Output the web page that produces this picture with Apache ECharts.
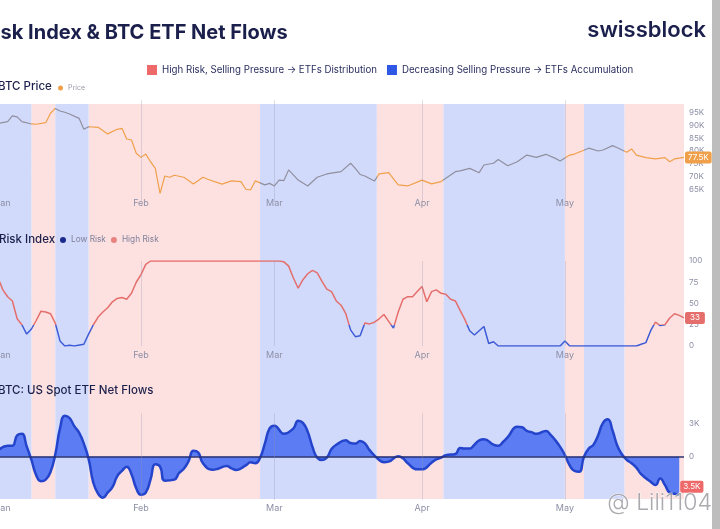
<!DOCTYPE html>
<html>
<head>
<meta charset="utf-8">
<script src="https://cdn.jsdelivr.net/npm/echarts@6/dist/echarts.min.js"></script>
<style>html,body{margin:0;padding:0;background:#fff}#c{width:720px;height:529px}</style>
</head>
<body>
<div id="c"></div>
<script>
// x values are days since 2026-01-01 (0 = Jan 1)
const monthNames = ['Jan', 'Feb', 'Mar', 'Apr', 'May'];
const monthStartDay = [0, 31, 59, 90, 120];

// regime bands
const bandStartDay = [0, 8, 13, 20, 56, 80.5, 94.5, 120, 124, 132.5];
const bandEndDay   = [8, 13, 20, 56, 80.5, 94.5, 120, 124, 132.5, 145];
const bandType     = ['low', 'high', 'low', 'high', 'low', 'high', 'low', 'high', 'low', 'high'];
const highName = 'High Risk, Selling Pressure \u2192 ETFs Distribution';
const lowName = 'Decreasing Selling Pressure \u2192 ETFs Accumulation';

// BTC price (K USD)
const priceDay = [1,3,4,5,6,8,9,11,12,13,14,15,16,18,19,20,22,24,26,27,28,29,30,31,32,33,34,35,36,37,38,40,42,44,45,48,50,52,53,54,55,57,58,59,60,61,62,64,66,68,70,73,75,76,77,78,80,81,83,85,87,90,92,94,95,97,98,100,102,103,105,106,108,110,112,114,116,118,119,121,122,125,127,128,130,131,133,134,135,137,139,141,142,143,145];
const priceK = [90.8,91.5,93.8,93.4,91.5,90.6,90.5,91.1,94.8,96.7,95.7,95.2,94.5,92.8,88.5,89.5,89.3,86.7,88.5,88.9,84.7,84.3,79.1,77.5,78.8,75.8,73.2,63.4,70.2,69.7,70.5,69.7,67.1,69.7,68.9,67.0,68.3,68.0,65.0,64.7,68.3,66.7,67.3,66.3,68.6,68.4,72.6,68.6,66.3,69.7,71.0,71.9,75.2,73.2,70.8,70.2,68.2,71.0,71.5,66.7,66.3,68.6,67.1,68.0,69.3,71.9,72.2,73.2,71.5,74.5,75.2,76.7,74.2,75.8,78.4,77.5,78.7,77.1,76.1,78.4,78.8,81.1,80.0,80.4,82.1,81.3,79.5,80.8,78.4,77.4,76.9,77.4,75.8,76.9,77.5];

// Risk index (0-100)
const riskDay = [1,2,3,4,5,6,7,8,9,10,11,12,13,14,15,16,17,19,20,21,22,23,24,25,26,27,28,29,30,31,32,33,60,61,62,63,64,65,66,67,68,69,70,71,72,73,74,75,76,77,78,79,80,81,82,83,84,85,86,87,88,89,90,91,92,93,94,95,96,97,98,99,100,101,102,103,104,105,106,119,120,121,135,136,137,138,139,140,141,142,143,144,145];
const riskValue = [80,66,58,53,32,25,14,20,30,41,40,38,27,6,0,1,0,2,14,25,34,40,45,52,56,57,55,62,75,84,96,100,100,99,94,80,68,78,85,89,86,76,67,64,53,48,38,19,11,12,27,26,28,32,37,29,21,40,55,58,58,64,70,52,64,66,62,61,55,53,42,31,18,13,18,23,3,5,0,0,6,0,0,2,4,18,28,24,25,33,38,36,33];
const riskThreshold = 25;

// US spot ETF net flows (K)
const flowDay = [1,3,4,5,6,7,8,9,10,11,12,13,14,15,16,17,18,19,20,21,22,23,24,25,26,27,28,29,30,31,32,33,34,35,36,38,39,40,41,42,43,44,46,47,49,50,51,53,54,55,56,57,58,59,61,63,64,65,66,67,68,69,70,71,72,74,75,76,77,78,79,81,82,83,85,86,87,89,90,92,93,94,95,97,98,99,100,101,102,103,105,106,107,108,110,111,112,113,114,116,117,118,119,120,121,122,123,124,125,126,127,128,129,130,131,132,133,134,135,136,138,139,140,141,142,143,144];
const flowK = [0.55,1.0,1.0,1.95,2.1,0.95,-0.3,-1.7,-2.25,-2.1,-1.4,0.2,2.6,3.76,3.55,2.8,2.2,1.2,-0.2,-2.4,-3.4,-3.76,-3.3,-2.8,-1.8,-1.3,-0.92,-1.6,-2.9,-3.5,-3.3,-2.1,-0.7,-0.9,-2.2,-2.1,-1.5,-1.1,-0.4,0.55,0.4,-0.6,-1.2,-1.13,-0.85,-1.07,-1.22,-0.8,-0.52,-0.6,-0.1,1.2,2.6,2.85,2.1,2.6,3.3,3.1,2.3,0.9,-0.1,-0.3,-0.1,0.7,1.1,1.5,1.25,1.2,1.45,1.23,0.6,-0.3,-0.5,-0.45,0.05,-0.15,-0.6,-1.16,-1.16,-0.55,-0.25,-0.09,0.14,0.25,0.8,0.75,0.75,1.1,1.5,1.6,1.1,1.0,1.35,1.8,2.75,2.7,2.36,2.25,2.1,2.36,2.0,1.5,0.9,0.16,-0.8,-1.3,-1.38,0,0.75,1.1,2.0,3.1,3.43,2.4,1.0,0.2,-0.3,-0.6,-1.0,-1.6,-2.3,-2.6,-2.0,-2.6,-3.3,-3.4,-3.5];

// axis ticks
const priceTicksK = [65, 70, 75, 80, 85, 90, 95];
const riskTicks = [0, 25, 50, 75, 100];
const flowTicksK = [-3, 0, 3];

const xMin = 1.4, xMax = 145;
const FONT = 'Inter';
const C = {
  navy: '#1b1f4b', pinkBand: '#fde1e1', blueBand: '#d2dafb',
  red: '#ee6a6a', blue: '#2f57e6', orange: '#f0a04b', grey: '#8f8f9e',
  riskRed: '#e46e6c', riskBlue: '#3d5bd6', flowLine: '#2544cc', flowFill: '#5b7cf2',
  axisText: '#8c8fa6', grid: 'rgba(150,150,175,0.30)'
};

const zip = (a, b) => a.map((v, i) => [v, b[i]]);
const monthLabelAt = monthStartDay.map(d => Math.max(d, xMin + 0.6));
const monthFormatter = v => {
  let idx = 0, best = 1e9;
  monthLabelAt.forEach((m, i) => { if (Math.abs(m - v) < best) { best = Math.abs(m - v); idx = i; } });
  return monthNames[idx];
};

function xAxisFor(gridIndex, margin, show) {
  return {
    type: 'value', gridIndex, min: xMin, max: xMax, show: show, z: 1,
    axisLine: { show: false }, axisTick: { show: false }, splitLine: { show: false },
    axisLabel: { show: show, customValues: monthLabelAt, formatter: monthFormatter,
      alignMinLabel: 'center', alignMaxLabel: 'center',
      color: C.axisText, fontSize: 9, fontFamily: FONT, margin }
  };
}
function yAxisFor(gridIndex, min, max, interval, ticks, fmt, splitShow) {
  return {
    type: 'value', gridIndex, position: 'right', min, max, interval, z: 1,
    axisLine: { show: false }, axisTick: { show: false },
    axisLabel: { customValues: ticks, formatter: fmt, color: C.axisText, fontSize: 8, fontFamily: FONT, margin: 5 },
    splitLine: { show: splitShow, showMinLine: false, showMaxLine: false, lineStyle: { color: C.grid, width: 1 } }
  };
}
const gridBox = (top, height) => ({ left: 0, right: 36, top, height, outerBoundsMode: 'none', containLabel: false });

const bandAreas = type => bandStartDay.map((s, i) => ({ s, e: bandEndDay[i], t: bandType[i] }))
  .filter(b => b.t === type).map(b => [{ xAxis: b.s }, { xAxis: b.e }]);

const monthLines = gridIndex => ({
  type: 'line', xAxisIndex: gridIndex, yAxisIndex: gridIndex, data: [], silent: true, z: 1,
  markLine: { silent: true, symbol: 'none', label: { show: false },
    lineStyle: { color: C.grid, width: 1, type: 'solid' },
    data: monthStartDay.slice(1).map(d => ({ xAxis: d })) }
});

const pricePieces = bandStartDay.map((s, i) => ({
  gte: s, lt: bandEndDay[i] + (i === bandStartDay.length - 1 ? 1 : 0),
  color: bandType[i] === 'high' ? C.orange : C.grey
}));

const option = {
  backgroundColor: '#fff',
  animation: false,
  textStyle: { fontFamily: FONT },
  grid: [gridBox(100, 102), gridBox(261, 85), gridBox(413.1, 87.2), gridBox(104, 395)],
  xAxis: [xAxisFor(0, -3, true), xAxisFor(1, 5, true), xAxisFor(2, 3, true), xAxisFor(3, 0, false)],
  yAxis: [
    yAxisFor(0, 60, 100, 5, priceTicksK, v => v + 'K', true),
    yAxisFor(1, 0, 100, 25, riskTicks, v => String(v), true),
    yAxisFor(2, -4, 4, 1, flowTicksK, v => (v === 0 ? '0' : v + 'K'), false),
    { type: 'value', gridIndex: 3, min: 0, max: 1, show: false, splitLine: { show: false } }
  ],
  legend: [
    { data: [highName, lowName], left: 147, top: 65, padding: 0, icon: 'rect', itemWidth: 10, itemHeight: 10, itemGap: 10,
      textStyle: { fontSize: 9.7, color: '#2a2f5e', fontFamily: FONT }, selectedMode: false },
    { data: [{ name: 'Price', itemStyle: { color: C.orange } }], left: 58, top: 84.5, padding: 0, icon: 'circle', itemWidth: 5, itemHeight: 5, itemGap: 4,
      textStyle: { fontSize: 7, color: '#9a9aa8', fontFamily: FONT }, selectedMode: false },
    { data: [{ name: 'Low Risk', itemStyle: { color: '#1c2a8c' } }, { name: 'High Risk', itemStyle: { color: '#e9837f' } }],
      left: 60, top: 236, padding: 0, icon: 'circle', itemWidth: 6, itemHeight: 6, itemGap: 5,
      textStyle: { fontSize: 8.3, color: '#7d7f99', fontFamily: FONT }, selectedMode: false }
  ],
  visualMap: [
    { type: 'piecewise', show: false, seriesIndex: 2, dimension: 0, pieces: pricePieces },
    { type: 'piecewise', show: false, seriesIndex: 5, dimension: 1,
      pieces: [{ gte: -10, lt: riskThreshold, color: C.riskBlue }, { gte: riskThreshold, lte: 110, color: C.riskRed }] }
  ],
  series: [
    { name: highName, type: 'line', xAxisIndex: 3, yAxisIndex: 3, data: [], z: 0, silent: true,
      itemStyle: { color: C.red }, lineStyle: { color: C.red },
      markArea: { silent: true, itemStyle: { color: C.pinkBand }, data: bandAreas('high') } },
    { name: lowName, type: 'line', xAxisIndex: 3, yAxisIndex: 3, data: [], z: 0, silent: true,
      itemStyle: { color: C.blue }, lineStyle: { color: C.blue },
      markArea: { silent: true, itemStyle: { color: C.blueBand }, data: bandAreas('low') } },
    { name: 'Price', type: 'line', xAxisIndex: 0, yAxisIndex: 0, data: zip(priceDay, priceK), z: 3,
      showSymbol: false, itemStyle: { color: C.orange }, lineStyle: { width: 1.2 },
      endLabel: { show: true, distance: 1, formatter: p => p.value[1] + 'K', backgroundColor: C.orange,
        color: '#fff', fontSize: 8, fontFamily: FONT, padding: [2, 3, 2, 3], borderRadius: 2 } },
    { name: 'Low Risk', type: 'line', xAxisIndex: 1, yAxisIndex: 1, data: [], itemStyle: { color: '#1c2a8c' } },
    { name: 'High Risk', type: 'line', xAxisIndex: 1, yAxisIndex: 1, data: [], itemStyle: { color: '#e9837f' } },
    { name: 'Risk Index', type: 'line', xAxisIndex: 1, yAxisIndex: 1, data: zip(riskDay, riskValue), z: 3,
      showSymbol: false, lineStyle: { width: 1.5 },
      endLabel: { show: true, distance: 1, formatter: p => String(p.value[1]), backgroundColor: C.riskRed,
        color: '#fff', fontSize: 8, fontFamily: FONT, padding: [2, 5, 2, 5], borderRadius: 2 } },
    { name: 'ETF Net Flows', type: 'line', xAxisIndex: 2, yAxisIndex: 2, data: zip(flowDay, flowK), z: 3,
      showSymbol: false, smooth: 0.5,
      itemStyle: { color: C.flowLine }, lineStyle: { width: 2.5, color: C.flowLine },
      areaStyle: { color: C.flowFill, opacity: 1 },
      markLine: { silent: true, symbol: 'none', label: { show: false },
        lineStyle: { color: '#283270', width: 1.5, type: 'solid' }, data: [{ yAxis: 0 }] },
      endLabel: { show: true, distance: 1, offset: [0, -8], formatter: p => Math.abs(p.value[1]).toFixed(1) + 'K',
        backgroundColor: C.red, color: '#fff', fontSize: 8, fontFamily: FONT, padding: [2, 3, 2, 3], borderRadius: 2 } },
    monthLines(0), monthLines(1), monthLines(2)
  ],
  graphic: { elements: [
    { type: 'text', x: -18, y: 33, z: 100, style: { text: 'Risk Index & BTC ETF Net Flows', fill: C.navy,
      fontSize: 20, fontWeight: 'bold', fontFamily: FONT, verticalAlign: 'middle' } },
    { type: 'text', x: 706, y: 30, z: 100, style: { text: 'swissblock', fill: C.navy, align: 'right',
      fontSize: 22, fontWeight: 600, fontFamily: FONT, verticalAlign: 'middle' } },
    { type: 'text', x: -2, y: 87, z: 100, style: { text: 'BTC Price', fill: C.navy,
      fontSize: 11.5, fontWeight: 500, fontFamily: FONT, verticalAlign: 'middle' } },
    { type: 'text', x: -1, y: 240, z: 100, style: { text: 'Risk Index', fill: C.navy,
      fontSize: 11.5, fontWeight: 500, fontFamily: FONT, verticalAlign: 'middle' } },
    { type: 'text', x: -2, y: 391, z: 100, style: { text: 'BTC: US Spot ETF Net Flows', fill: C.navy,
      fontSize: 11.5, fontWeight: 500, fontFamily: FONT, verticalAlign: 'middle' } },
    { type: 'text', x: 712, y: 503, z: 100, style: { text: '@ Lili1104', fill: 'rgba(150,150,155,0.8)', align: 'right',
      fontSize: 23, fontWeight: 300, fontFamily: FONT, verticalAlign: 'middle', stroke: 'rgba(255,255,255,0.7)', lineWidth: 1 } },
    { type: 'rect', x: 712, y: 0, z: 100, shape: { width: 8, height: 529 }, style: { fill: '#bdbdbd' } }
  ] }
};

const chart = echarts.init(document.getElementById('c'), null, { renderer: 'canvas' });
chart.setOption(option);
</script>
</body>
</html>
